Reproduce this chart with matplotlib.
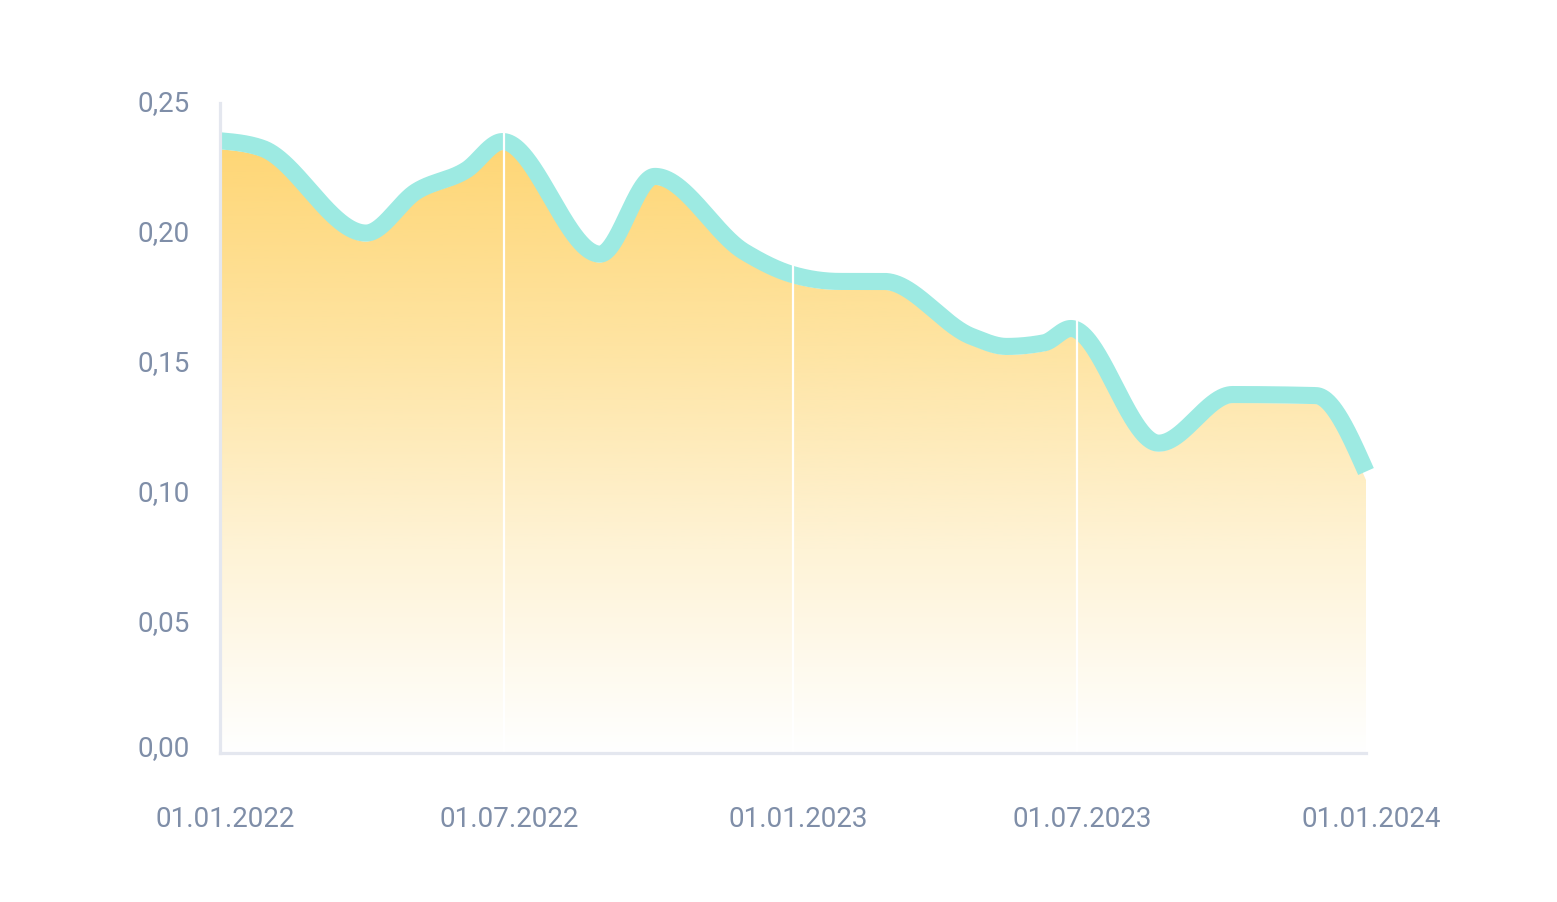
import numpy as np
import matplotlib
matplotlib.use("Agg")
import matplotlib.pyplot as plt
import matplotlib.dates as mdates
import matplotlib.transforms as mtransforms
from matplotlib.colors import LinearSegmentedColormap

# points (bends, peaks and troughs of the curve)
dates = ["2022-01-01", "2022-01-28", "2022-04-04", "2022-05-06", "2022-06-07",
         "2022-06-30", "2022-08-31", "2022-10-05", "2022-12-01",
         "2023-01-01", "2023-01-31", "2023-02-28", "2023-04-25",
         "2023-05-17", "2023-06-10", "2023-06-27", "2023-08-22", "2023-10-08",
         "2023-11-30", "2024-01-01"]
values = [0.2322, 0.2293, 0.1967, 0.2127, 0.2210,
          0.2319, 0.1886, 0.2185, 0.1895,
          0.1807, 0.1781, 0.1781, 0.1569,
          0.1531, 0.1545, 0.1600, 0.1159, 0.1346,
          0.1342, 0.1050]

grid_dates = ["2022-07-01", "2023-01-01", "2023-07-01"]
tick_dates = ["2022-01-01", "2022-07-01", "2023-01-01", "2023-07-01", "2024-01-01"]
tick_labels = ["01.01.2022", "01.07.2022", "01.01.2023", "01.07.2023", "01.01.2024"]
y_ticks = [0.0, 0.05, 0.10, 0.15, 0.20, 0.25]
y_labels = ["0,00", "0,05", "0,10", "0,15", "0,20", "0,25"]

LINE = "#9deae2"
TEXT = "#7f8ea8"
SPINE = "#e4e7ef"


def monotone(x, y, n=2000):
    # monotone cubic curve through the points (like d3 curveMonotoneX)
    x = np.asarray(x, float)
    y = np.asarray(y, float)
    h = np.diff(x)
    d = np.diff(y) / h
    m = np.zeros_like(y)
    for i in range(1, len(y) - 1):
        p = (d[i - 1] * h[i] + d[i] * h[i - 1]) / (h[i - 1] + h[i])
        m[i] = (np.sign(d[i - 1]) + np.sign(d[i])) * min(abs(d[i - 1]), abs(d[i]), 0.5 * abs(p))
    m[0] = (3 * d[0] - m[1]) / 2
    m[-1] = (3 * d[-1] - m[-2]) / 2
    xs = np.linspace(x[0], x[-1], n)
    idx = np.clip(np.searchsorted(x, xs) - 1, 0, len(h) - 1)
    t = (xs - x[idx]) / h[idx]
    h00 = 2 * t**3 - 3 * t**2 + 1
    h10 = t**3 - 2 * t**2 + t
    h01 = -2 * t**3 + 3 * t**2
    h11 = t**3 - t**2
    ys = h00 * y[idx] + h10 * h[idx] * m[idx] + h01 * y[idx + 1] + h11 * h[idx] * m[idx + 1]
    return xs, ys


xd = mdates.datestr2num(dates)
xs, ys = monotone(xd, values)

fig = plt.figure(figsize=(15.57, 9.02), dpi=100)
ax = fig.add_axes([220 / 1557, 1 - 753 / 902, 1146 / 1557, 650 / 902])
ax.set_xlim(xd[0], xd[-1])
ax.set_ylim(0, 0.25)

# gradient fill under the curve
cmap = LinearSegmentedColormap.from_list("fade", ["#ffffff", "#fef3d6", "#fee4a2", "#fed675"])
grad = np.linspace(0, 1, 256).reshape(-1, 1)
poly = ax.fill_between(xs, 0, ys, color="none", lw=0)
img = ax.imshow(grad, cmap=cmap, aspect="auto", origin="lower",
                extent=[xd[0], xd[-1], 0, 0.235], zorder=1)
img.set_clip_path(poly.get_paths()[0], transform=ax.transData)

# thick line sitting on top of the fill edge
off = mtransforms.offset_copy(ax.transData, fig=fig, x=0, y=8.5, units="dots")
ax.plot(xs, ys, color=LINE, lw=12.3, solid_capstyle="butt", transform=off,
        zorder=3, clip_on=False)

# white vertical guides cut through fill and line
px_per_unit = ax.transData.transform((0, 1))[1] - ax.transData.transform((0, 0))[1]
for g in mdates.datestr2num(grid_dates):
    top = np.interp(g, xs, ys) + 17.5 / px_per_unit
    ax.plot([g, g], [0, top], color="white", lw=1.6, zorder=4, clip_on=False)

for s in ["top", "right"]:
    ax.spines[s].set_visible(False)
for s in ["left", "bottom"]:
    ax.spines[s].set_color(SPINE)
    ax.spines[s].set_linewidth(2.3)
    ax.spines[s].set_zorder(5)

ax.set_xticks(mdates.datestr2num(tick_dates))
ax.set_xticklabels(tick_labels)
ax.set_yticks(y_ticks)
ax.set_yticklabels(y_labels)
ax.tick_params(axis="both", length=0, colors=TEXT, labelsize=20)
ax.tick_params(axis="x", pad=38)
ax.tick_params(axis="y", pad=22)
for lab in ax.get_xticklabels():
    lab.set_fontfamily(["Roboto", "DejaVu Sans"])
    lab.set_transform(lab.get_transform() + mtransforms.Affine2D().translate(5, 0))
for i, lab in enumerate(ax.get_yticklabels()):
    lab.set_fontfamily(["Roboto", "DejaVu Sans"])
    shift = 7 if i == 0 else 2
    lab.set_transform(lab.get_transform() + mtransforms.Affine2D().translate(0, shift))

fig.savefig("out.png", dpi=100)
